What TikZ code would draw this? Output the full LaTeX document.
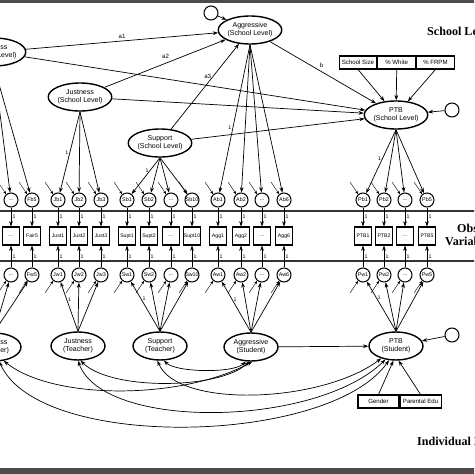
\documentclass[tikz,border=0pt]{standalone}
\usepackage{fontspec}
\setsansfont{Liberation Sans}
\newfontfamily\levelfont{Liberation Serif}
\usetikzlibrary{arrows.meta, positioning, shapes.geometric}
\definecolor{framegray}{gray}{0.3}

\tikzset{
  latent/.style={draw, ellipse, line width=1.2pt, minimum width=1.62cm, minimum height=0.84cm,
    inner sep=0pt, align=center, font=\sffamily\fontsize{6}{7}\selectfont},
  indic/.style={draw, circle, line width=0.9pt, minimum size=0.42cm, inner sep=0pt,
    font=\sffamily\fontsize{4.6}{5}\selectfont},
  obs/.style={draw, rectangle, line width=0.9pt, minimum width=0.51cm, minimum height=0.54cm,
    inner sep=0pt, font=\sffamily\fontsize{4.4}{5}\selectfont},
  cov/.style={draw, rectangle, line width=0.9pt, minimum width=1.13cm, minimum height=0.39cm,
    inner sep=0pt, font=\sffamily\fontsize{5.2}{6}\selectfont},
  resid/.style={draw, circle, line width=0.9pt, minimum size=0.42cm, inner sep=0pt},
  link/.style={line width=0.6pt, -{Stealth[length=4.5pt,width=3.2pt]}},
  covlink/.style={line width=0.6pt, {Stealth[length=4.5pt,width=3.2pt]}-{Stealth[length=4.5pt,width=3.2pt]}},
  errarrow/.style={line width=0.35pt, -{Stealth[length=3pt,width=2.2pt]}},
  one/.style={font=\sffamily\fontsize{4.5}{5}\selectfont, inner sep=1pt},
  coef/.style={font=\sffamily\fontsize{5.2}{6}\selectfont, inner sep=1.5pt},
  rule/.style={line width=0.9pt, black!80},
  level/.style={font=\levelfont\bfseries\fontsize{10.3}{11}\selectfont, anchor=base west, inner sep=0pt},
}

\begin{document}
\begin{tikzpicture}[x=0.03cm, y=-0.03cm]
\useasboundingbox (0,0) rectangle (474,474);
\clip (0,0) rectangle (474,474);

% frame and level rules
\draw[framegray, line width=2pt] (-5,1.5) -- (480,1.5);
\fill[framegray] (-5,468) rectangle (480,480);
\draw[rule] (-5,211) -- (480,211);
\draw[rule] (-5,261) -- (480,261);

\node[level] (lvlSchool) at (427,35) {School Level};
\node[level] (lvlObsA) at (457,232) {Observed};
\node[level] (lvlObsB) at (445,245) {Variables};
\node[level] (lvlInd) at (417,445) {Individual Level};

% school level
\node[latent] (fairSch) at (-6,52) {Fairness\\(School Level)};
\node[latent] (justSch) at (80,97) {Justness\\(School Level)};
\node[latent] (suppSch) at (160,143) {Support\\(School Level)};
\node[latent] (aggSch) at (250,30) {Aggressive\\(School Level)};
\node[latent] (ptbSch) at (396,115) {PTB\\(School Level)};
\node[resid] (eAggSch) at (211,13) {};
\node[resid] (ePtbSch) at (452,110) {};

\node[cov] (size) at (358,62.5) {School Size};
\node[cov, right=0pt of size] (white) {\% White};
\node[cov, right=0pt of white] (frpm) {\% FRPM};

\draw[link] (fairSch) -- node[coef, above] (la1) {a1} (aggSch);
\draw[link] (justSch) -- node[coef, above left, pos=0.55] (la2) {a2} (aggSch);
\draw[link] (suppSch) -- node[coef, left, pos=0.62] (la3) {a3} (aggSch);
\draw[link] (aggSch) -- node[coef, above right, pos=0.45] (lb) {b} (ptbSch);
\draw[link] (fairSch) -- (ptbSch);
\draw[link] (justSch) -- (ptbSch);
\draw[link] (suppSch) -- (ptbSch);
\draw[link] (eAggSch) -- (aggSch);
\draw[link] (ePtbSch) -- (ptbSch);
\draw[link] (size.south) -- (ptbSch);
\draw[link] (white.south) -- (ptbSch);
\draw[link] (frpm.south) -- (ptbSch);

% indicators
\foreach \x/\id/\bt/\ot/\wt in {
  -32/f1/Fb1/Fair1/Fw1, -10/f2/Fb2/Fair2/Fw2, 11/f3/\dots/\dots/\dots, 32/f5/Fb5/Fair5/Fw5,
  58/j1/Jb1/Just1/Jw1, 79/j2/Jb2/Just2/Jw2, 101/j3/Jb3/Just3/Jw3,
  127/s1/Sb1/Supt1/Sw1, 149/s2/Sb2/Supt2/Sw2, 171/s3/\dots/\dots/\dots, 192/s10/Sb10/Supt10/Sw10,
  218/a1/Ab1/Agg1/Aw1, 241/a2/Ab2/Agg2/Aw2, 262/a3/\dots/\dots/\dots, 284/a6/Ab6/Agg6/Aw6,
  363/p1/Pb1/PTB1/Pw1, 384/p2/Pb2/PTB2/Pw2, 405/p3/\dots/\dots/\dots, 427/p5/Pb5/PTB5/Pw5}
{
  \node[indic] (b\id) at (\x,200) {\bt};
  \node[obs] (o\id) at (\x,236) {\ot};
  \node[indic] (w\id) at (\x,275) {\wt};
  \draw[link] (b\id) -- node[one, right] (lob\id) {1} (o\id);
  \draw[link] (w\id) -- node[one, right] (low\id) {1} (o\id);
  \draw[errarrow] ([shift={(-8,-12)}]b\id.130) -- (b\id.130);
  \draw[errarrow] ([shift={(-8,12)}]w\id.230) -- (w\id.230);
}

% between loadings
\draw[link] (fairSch.south) -- node[one, left] (lfb) {1} (bf1);
\foreach \id in {f2,f3,f5} \draw[link] (fairSch.south) -- (b\id);
\draw[link] (justSch.south) -- node[one, left, pos=0.5] (ljb) {1} (bj1);
\foreach \id in {j2,j3} \draw[link] (justSch.south) -- (b\id);
\draw[link] (suppSch.south) -- node[one, left, pos=0.35] (lsb) {1} (bs1);
\foreach \id in {s2,s3,s10} \draw[link] (suppSch.south) -- (b\id);
\draw[link] (aggSch.south) -- node[one, left, pos=0.56] (lab) {1} (ba1);
\foreach \id in {a2,a3,a6} \draw[link] (aggSch.south) -- (b\id);
\draw[link] (ptbSch.south) -- node[one, left, pos=0.45] (lpb) {1} (bp1);
\foreach \id in {p2,p3,p5} \draw[link] (ptbSch.south) -- (b\id);

% individual level
\node[latent] (fairTch) at (-6,347) {Fairness\\(Teacher)};
\node[latent] (justTch) at (78,346) {Justness\\(Teacher)};
\node[latent] (suppTch) at (160,346) {Support\\(Teacher)};
\node[latent] (aggStu) at (251,347) {Aggressive\\(Student)};
\node[latent] (ptbStu) at (396,346) {PTB\\(Student)};
\node[resid] (ePtbStu) at (452,335) {};
\node[cov, minimum width=1.23cm] (gender) at (378.5,401.5) {Gender};
\node[cov, minimum width=1.23cm, right=0pt of gender] (parEdu) {Parental Edu};

% within loadings
\draw[link] (fairTch.north) -- node[one, right, pos=0.65] (lfw) {1} (wf1);
\foreach \id in {f2,f3,f5} \draw[link] (fairTch.north) -- (w\id);
\draw[link] (justTch.north) -- node[one, right, pos=0.65] (ljw) {1} (wj1);
\foreach \id in {j2,j3} \draw[link] (justTch.north) -- (w\id);
\draw[link] (suppTch.north) -- node[one, right, pos=0.65] (lsw) {1} (ws1);
\foreach \id in {s2,s3,s10} \draw[link] (suppTch.north) -- (w\id);
\draw[link] (aggStu.north) -- node[one, right, pos=0.65] (law) {1} (wa1);
\foreach \id in {a2,a3,a6} \draw[link] (aggStu.north) -- (w\id);
\draw[link] (ptbStu.north) -- node[one, right, pos=0.68] (lpw) {1} (wp1);
\foreach \id in {p2,p3,p5} \draw[link] (ptbStu.north) -- (w\id);

\draw[link] (aggStu) -- (ptbStu);
\draw[link] (ePtbStu) -- (ptbStu);
\draw[link] (gender.north) -- (ptbStu.-100);
\draw[link] (parEdu.north) -- (ptbStu.-80);

% covariances
\draw[covlink] (suppTch.-75) .. controls +(12,12) and +(-12,12) .. (aggStu.-110);
\draw[covlink] (justTch.-80) .. controls +(30,30) and +(-30,28) .. (aggStu.-97);
\draw[covlink] (fairTch.-55) .. controls +(50,40) and +(-70,38) .. (aggStu.-85);
\draw[covlink] (suppTch.-100) .. controls +(20,48) and +(-60,45) .. (ptbStu.-140);
\draw[covlink] (justTch.-90) .. controls +(25,70) and +(-70,68) .. (ptbStu.-128);
\draw[covlink] (fairTch.-70) .. controls +(40,90) and +(-60,85) .. (ptbStu.-116);
\end{tikzpicture}
\end{document}
